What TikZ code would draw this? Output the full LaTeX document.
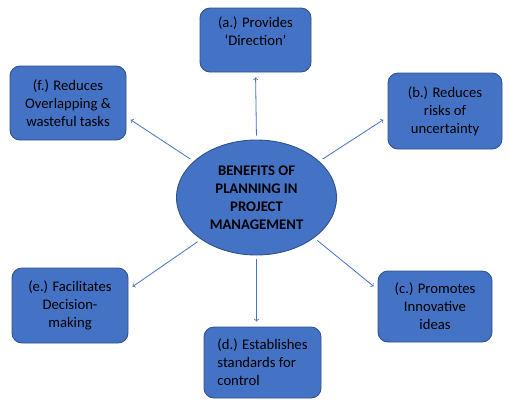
\documentclass[tikz,border=0pt]{standalone}
\usepackage{fontspec}
\setmainfont{Carlito}
\usetikzlibrary{shapes,arrows,positioning}

\definecolor{boxblue}{HTML}{4472C4}
\definecolor{edgeblue}{HTML}{2F528F}

\begin{document}
\begin{tikzpicture}[x=1pt, y=-1pt,
    font=\fontsize{14.67}{18}\selectfont,
    box/.style={rectangle, rounded corners=10pt, draw=edgeblue, line width=0.9pt, fill=boxblue, text=black, inner sep=2pt},
    hub/.style={ellipse, draw=edgeblue, line width=0.9pt, fill=boxblue, text=black, inner sep=0pt, minimum width=160pt, minimum height=115pt, font=\fontsize{14.67}{18}\selectfont\bfseries},
    link/.style={->, draw=boxblue, line width=0.8pt, shorten <=4pt, shorten >=5pt}]
  %  \draw[help lines] (0, 0) grid (510, 408);
  \useasboundingbox (0, 0) rectangle (510, 408);

  \node [hub, align=center] (ctr) at (256.5, 197.5) {BENEFITS OF\\PLANNING IN\\PROJECT\\MANAGEMENT};

  \node [box, minimum width=111pt, minimum height=64pt, align=center] (a) at (255.5, 40) {(a.) Provides\\‘Direction’\\~};
  \node [box, minimum width=114pt, minimum height=76pt, align=center] (b) at (445, 111) {(b.) Reduces\\risks of\\uncertainty};
  \node [box, minimum width=114pt, minimum height=71pt, align=center] (c) at (435, 306.5) {(c.) Promotes\\Innovative\\ideas};
  \node [box, minimum width=117pt, minimum height=71pt, align=left] (d) at (262.5, 362.5) {(d.) Establishes\\standards for\\control};
  \node [box, minimum width=116pt, minimum height=75pt, align=center] (e) at (70, 305.5) {(e.) Facilitates\\Decision-\\making};
  \node [box, minimum width=116pt, minimum height=74pt, align=center] (f) at (68, 103) {(f.) Reduces\\Overlapping \&\\wasteful tasks};

  \draw[link] (ctr.north) -- (a.south);
  \draw[link] (ctr.30) -- ([yshift=-6pt]b.west);
  \draw[link] (ctr.-35) -- ([yshift=17pt]c.west);
  \draw[link] (ctr.south) -- (ctr.south |- d.north);
  \draw[link] (ctr.217) -- ([yshift=16pt]e.east);
  \draw[link] (ctr.150) -- ([yshift=-14pt]f.east);

\end{tikzpicture}
\end{document}
